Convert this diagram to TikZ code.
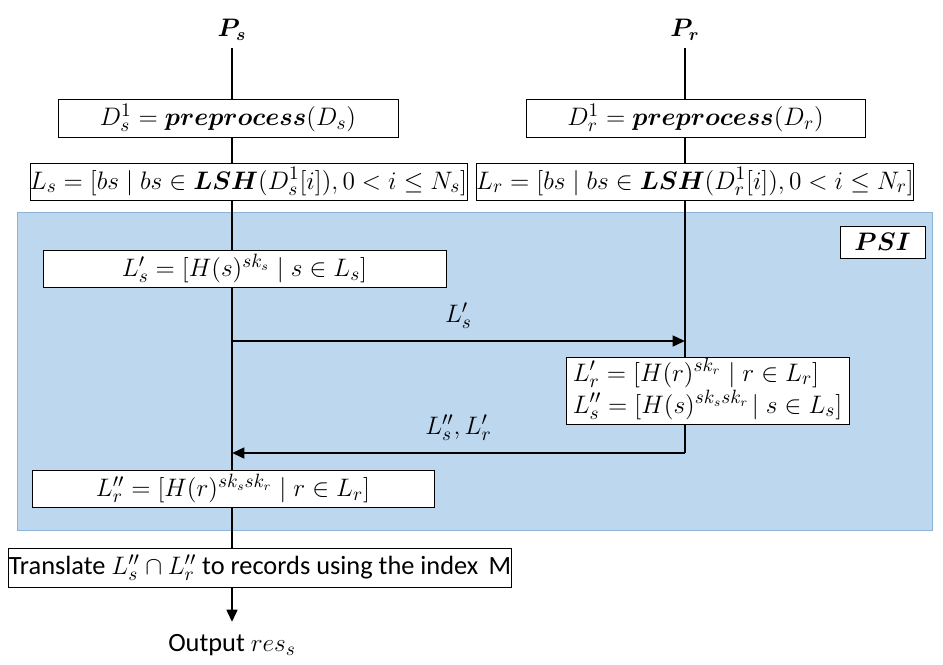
\documentclass[tikz,border=0pt]{standalone}
\usepackage{fontspec}
\setmainfont{Carlito}
\usepackage{amsmath,amssymb}
\usetikzlibrary{arrows.meta}
\definecolor{psiblue}{RGB}{189,215,238}
\definecolor{psiedge}{RGB}{140,180,215}
\newcommand{\bi}[1]{\boldsymbol{#1}}
\begin{document}
\begin{tikzpicture}[x=0.02cm,y=-0.02cm,
  box/.style={draw=black,fill=white,inner sep=0pt,font=\fontsize{15}{18}\selectfont},
  flow/.style={line width=1.6pt},
  arr/.style={line width=1.6pt,-{Triangle[length=7pt,width=6pt]}}]
\useasboundingbox (0,0) rectangle (943,664);
\fill[psiblue,draw=psiedge] (17,212) rectangle (932,530);
\node[font=\Large] (ps) at (232,30) {$\bi{P_s}$};
\node[font=\Large] (pr) at (685,30) {$\bi{P_r}$};
\coordinate (pstop) at (232,48);
\coordinate (prtop) at (685,48);
\coordinate (prbot) at (685,453);
\coordinate (s1) at (232,341);
\coordinate (r1) at (685,341);
\coordinate (s2) at (232,453);
\coordinate (send) at (232,622);
\draw[flow] (pstop) -- (232,610);
\draw[arr] (232,600) -- (send);
\draw[flow] (prtop) -- (prbot);
\draw[arr] (s1) -- (r1) node[midway,above=3pt,font=\fontsize{15}{18}\selectfont] {$L_s'$};
\draw[arr] (prbot) -- (s2) node[midway,above=3pt,font=\fontsize{15}{18}\selectfont] {$L_s'',L_r'$};
\node[box,minimum width=6.8cm,minimum height=0.76cm] (d1) at (228,118) {$D_s^1=\bi{preprocess}(D_s)$};
\node[box,minimum width=6.78cm,minimum height=0.76cm] (d2) at (695.5,118) {$D_r^1=\bi{preprocess}(D_r)$};
\node[box,minimum width=8.66cm,minimum height=0.74cm] (l1) at (248.5,181.5) {$L_s=[bs\mid bs\in\bi{LSH}(D_s^1[i]),0<i\le N_s]$};
\node[box,minimum width=8.68cm,minimum height=0.74cm] (l2) at (695,181.5) {$L_r=[bs\mid bs\in\bi{LSH}(D_r^1[i]),0<i\le N_r]$};
\node[box,minimum width=1.7cm,minimum height=0.64cm] (psi) at (882.5,242) {$\bi{PSI}$};
\node[box,minimum width=8.06cm,minimum height=0.74cm] (a1) at (244.5,268.5) {$L_s'=[H(s)^{sk_s}\mid s\in L_s]$};
\node[box,minimum width=5.66cm,minimum height=1.34cm] (a2) at (707.5,390.5) {$\begin{array}{@{}l@{}}L_r'=[H(r)^{sk_r}\mid r\in L_r]\\ L_s''=[H(s)^{sk_ssk_r}\!\mid s\in L_s]\end{array}$};
\node[box,minimum width=8.04cm,minimum height=0.74cm] (a3) at (233,488.5) {$L_r''=[H(r)^{sk_ssk_r}\mid r\in L_r]$};
\node[box,minimum width=9.68cm,minimum height=0.78cm] (t) at (260,567.5) {Translate $L_s''\cap L_r''$ to records using the index\, M};
\node[font=\fontsize{15}{18}\selectfont] (out) at (232,645) {Output $res_s$};
\end{tikzpicture}
\end{document}
